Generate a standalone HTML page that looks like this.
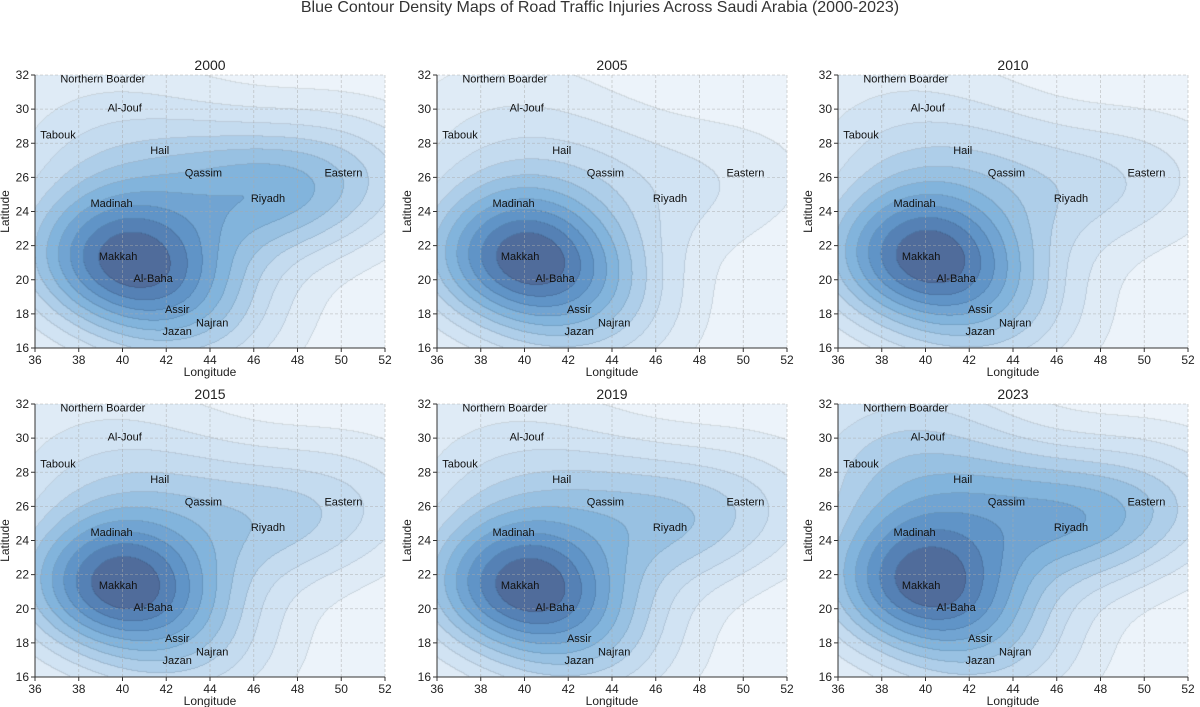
<!DOCTYPE html>
<html><head><meta charset="utf-8"><style>
body{margin:0;background:#fff;font-family:"Liberation Sans","DejaVu Sans",sans-serif;}
#wrap{position:relative;width:1200px;height:707px;overflow:hidden;}
canvas{position:absolute;}
svg{position:absolute;left:0;top:0;}
</style></head><body>
<div id="wrap">
<svg id="svg" width="1200" height="707"></svg>
</div>
<script>
const cities=["Northern Boarder","Al-Jouf","Tabouk","Hail","Qassim","Madinah","Riyadh","Eastern","Makkah","Al-Baha","Assir","Najran","Jazan"];
const lons=[39.1,40.1,37.05,41.7,43.7,39.5,46.65,50.1,39.8,41.4,42.5,44.1,42.5];
const lats=[31.8,30.1,28.5,27.6,26.3,24.5,24.8,26.3,21.4,20.1,18.3,17.5,17.0];
const years=["2000","2005","2010","2015","2019","2023"];
const w2000=[0.3,0.5,1,1,2,3,6,3,10,5,2,1,1];
const w2005=[0.3,0.4,0.8,0.8,1,3,1.2,0.8,12,4,2,0.5,1];
const w2010=[0.3,0.5,1.2,1,1.5,3,2,1.5,12,3,2,0.7,1];
const w2015=[0.3,0.5,1,1,1.5,3,3,2,12,2,1.5,0.7,1];
const w2019=[0.3,0.5,1,1,2,3,4,2,12,3,2,0.7,1];
const w2023=[0.8,1,2,1.5,2.5,4,5,3,10,2,1.5,0.7,1];
const weights=[w2000,w2005,w2010,w2015,w2019,w2023];
const xTicks=[36,38,40,42,44,46,48,50,52];
const yTicks=[16,18,20,22,24,26,28,30,32];

const PW=350,PH=273;
const X0=[35,437,838],Y0=[75,404];
const NS="http://www.w3.org/2000/svg";
const svg=document.getElementById('svg');
const wrap=document.getElementById('wrap');
function el(t,a,p){const e=document.createElementNS(NS,t);for(const k in a)e.setAttribute(k,a[k]);(p||svg).appendChild(e);return e;}
const stops=[[0,[236,243,250]],[0.3,[196,219,239]],[0.6,[130,180,220]],[0.85,[88,140,194]],[1,[80,108,155]]];
function col(t){for(let i=1;i<stops.length;i++){if(t<=stops[i][0]){const a=stops[i-1],b=stops[i];const f=(t-a[0])/(b[0]-a[0]);return a[1].map((v,j)=>Math.round(v+(b[1][j]-v)*f));}}return stops[stops.length-1][1];}
const NL=11;
const sx=2.9,sy=2.5;
let tl=el('text',{x:600,y:12,'text-anchor':'middle','font-size':'16','fill':'#333'});
tl.textContent="Blue Contour Density Maps of Road Traffic Injuries Across Saudi Arabia (2000-2023)";

years.forEach((yr,pi)=>{
  const x0=X0[pi%3],y0=Y0[Math.floor(pi/3)];
  const w=weights[pi];
  const xs=lon=>x0+(lon-36)/16*PW;
  const ys=lat=>y0+(32-lat)/16*PH;
  const cv=document.createElement('canvas');cv.width=PW;cv.height=PH;
  cv.style.left=x0+'px';cv.style.top=y0+'px';
  
  
  wrap.insertBefore(cv,svg);
  const ctx=cv.getContext('2d');const img=ctx.createImageData(PW,PH);
  const D=new Float32Array(PW*PH);let mx=0;
  for(let j=0;j<PH;j++){const lat=32-(j+0.5)/PH*16;for(let i=0;i<PW;i++){const lon=36+(i+0.5)/PW*16;let s=0;
    for(let k=0;k<lons.length;k++){const dx=(lon-lons[k])/sx,dy=(lat-lats[k])/sy;s+=w[k]*Math.exp(-0.5*(dx*dx+dy*dy));}
    D[j*PW+i]=s;if(s>mx)mx=s;}}
  const L=new Uint8Array(PW*PH);
  for(let p=0;p<D.length;p++){let l=Math.floor(Math.pow(D[p]/mx,0.75)*NL);if(l>=NL)l=NL-1;L[p]=l;}
  for(let j=0;j<PH;j++)for(let i=0;i<PW;i++){const p=j*PW+i;let c=col(L[p]/(NL-1));
    const edge=(i<PW-1&&L[p+1]!==L[p])||(j<PH-1&&L[p+PW]!==L[p]);
    if(edge)c=c.map(v=>v*0.9);
    img.data[p*4]=c[0];img.data[p*4+1]=c[1];img.data[p*4+2]=c[2];img.data[p*4+3]=255;}
  ctx.putImageData(img,0,0);
  const g=el('g',{});
  xTicks.forEach(v=>{const x=xs(v);
    const gl=el('line',{x1:x,x2:x,y1:y0,y2:y0+PH,stroke:'#aaa','stroke-opacity':0.6,'stroke-width':0.8,'stroke-dasharray':'3,2'},g);
    el('line',{x1:x,x2:x,y1:y0+PH,y2:y0+PH+4,stroke:'#333'},g);
    const t=el('text',{x:x,y:y0+PH+16,'text-anchor':'middle','font-size':'12',fill:'#222'},g);t.textContent=v;});
  yTicks.forEach(v=>{const y=ys(v);
    const gl=el('line',{x1:x0,x2:x0+PW,y1:y,y2:y,stroke:'#aaa','stroke-opacity':0.6,'stroke-width':0.8,'stroke-dasharray':'3,2'},g);
    el('line',{x1:x0-4,x2:x0,y1:y,y2:y,stroke:'#333'},g);
    const t=el('text',{x:x0-6,y:y+4,'text-anchor':'end','font-size':'12',fill:'#222'},g);t.textContent=v;});
  el('line',{x1:x0,x2:x0,y1:y0,y2:y0+PH,stroke:'#333'},g);
  el('line',{x1:x0,x2:x0+PW,y1:y0+PH,y2:y0+PH,stroke:'#333'},g);
  cities.forEach((c,k)=>{const t=el('text',{x:xs(lons[k]),y:ys(lats[k])+4,'text-anchor':'middle','font-size':'11',fill:'#111'},g);t.textContent=c;});
  const tt=el('text',{x:x0+PW/2,y:y0-5,'text-anchor':'middle','font-size':'14',fill:'#222'},g);tt.textContent=yr;
  const xl=el('text',{x:x0+PW/2,y:y0+PH+28,'text-anchor':'middle','font-size':'12',fill:'#222'},g);xl.textContent="Longitude";
  const yx=x0-26,yy=y0+PH/2;
  const yl=el('text',{x:yx,y:yy,'text-anchor':'middle','font-size':'12',fill:'#222',transform:`rotate(-90 ${yx} ${yy})`},g);yl.textContent="Latitude";
});
</script>
</body></html>
